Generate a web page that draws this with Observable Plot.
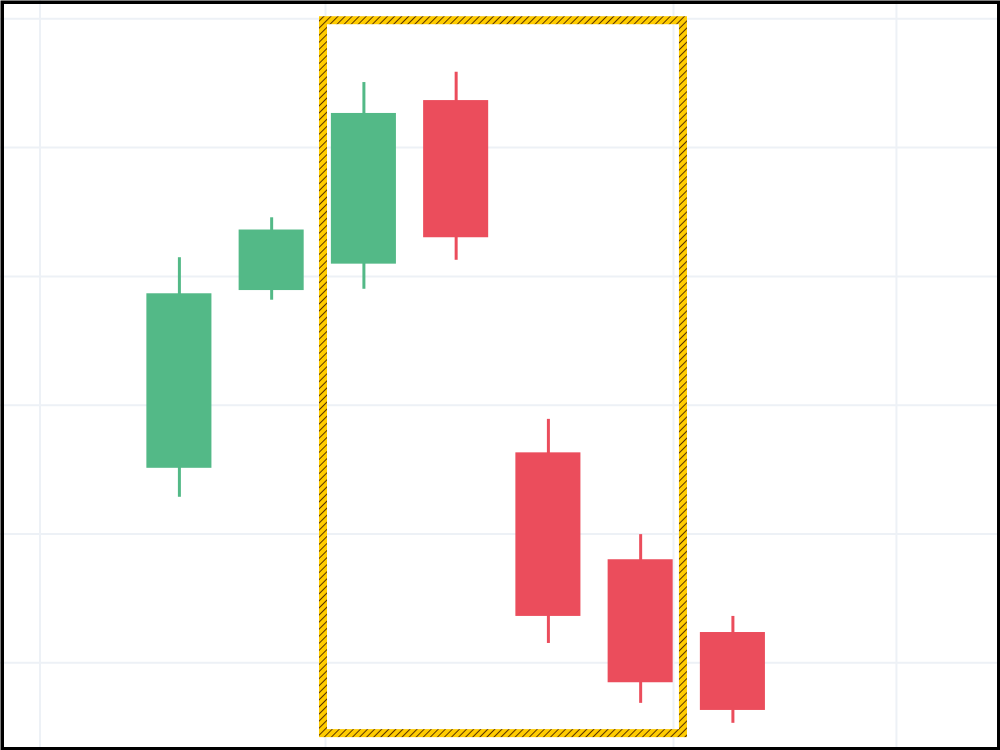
<!DOCTYPE html>
<html>
<head>
<meta charset="utf-8">
<script src="https://cdn.jsdelivr.net/npm/d3@7"></script>
<script src="https://cdn.jsdelivr.net/npm/@observablehq/plot@0.6"></script>
<style>
  html, body { margin: 0; padding: 0; background: #fff; overflow: hidden; }
  #chart { width: 1000px; height: 750px; }
</style>
</head>
<body>
<div id="chart"></div>
<script>
// Candle data (index, open, high, low, close)
const idx   = [0, 1, 2, 3, 4, 5, 6];
const open  = [103.02, 105.78, 106.19, 108.73, 103.26, 101.60, 100.47];
const high  = [106.29, 106.91, 109.01, 109.17, 103.78, 101.99, 100.72];
const low   = [102.57, 105.63, 105.80, 106.25, 100.30,  99.37,  99.06];
const close = [105.73, 106.72, 108.53, 106.60, 100.72,  99.69,  99.26];

// Grid tick positions (no labels are shown)
const yTicks = [100, 102, 104, 106, 108, 110];
const xTicks = [-1.511, 1.584, 5.356, 7.773];

// Highlighted region (candles 2..5)
const highlightX = [1.562, 5.464];
const highlightY = [98.90, 109.97];

const candles = idx.map((i, k) => ({
  i, open: open[k], high: high[k], low: low[k], close: close[k],
  up: close[k] >= open[k]
}));
const highlight = [{x1: highlightX[0], x2: highlightX[1], y1: highlightY[0], y2: highlightY[1]}];

const UP = "#53B987", DOWN = "#EB4D5C";

const chart = Plot.plot({
  width: 1000,
  height: 750,
  margin: 0,
  x: {domain: [-1.9393, 8.9008], axis: null},
  y: {domain: [98.638, 110.284], axis: null},
  marks: [
    Plot.gridY(yTicks, {stroke: "#EDF1F6", strokeOpacity: 1, strokeWidth: 2}),
    Plot.gridX(xTicks, {stroke: "#EDF1F6", strokeOpacity: 1, strokeWidth: 2}),
    Plot.ruleX(candles, {x: "i", y1: "low", y2: "high", stroke: d => d.up ? UP : DOWN, strokeWidth: 3}),
    Plot.rect(candles, {
      x1: d => d.i - 0.5, x2: d => d.i + 0.5,
      y1: "open", y2: "close",
      insetLeft: 13.6, insetRight: 13.6,
      fill: d => d.up ? UP : DOWN
    }),
    Plot.rect(highlight, {
      x1: "x1", x2: "x2", y1: "y1", y2: "y2",
      fill: "none", stroke: "url(#hatch)", strokeWidth: 8
    }),
    Plot.frame({stroke: "black", strokeWidth: 3.5, inset: 1.75})
  ]
});

// Hatch pattern for the highlight border
const ns = "http://www.w3.org/2000/svg";
const defs = document.createElementNS(ns, "defs");
defs.innerHTML = `
  <pattern id="hatch" width="5" height="5" patternUnits="userSpaceOnUse" patternTransform="rotate(45)">
    <rect width="5" height="5" fill="#FFCC00"></rect>
    <line x1="0.5" y1="0" x2="0.5" y2="5" stroke="#4A2400" stroke-width="0.9"></line>
  </pattern>`;
chart.insertBefore(defs, chart.firstChild);

document.getElementById("chart").appendChild(chart);
</script>
</body>
</html>
